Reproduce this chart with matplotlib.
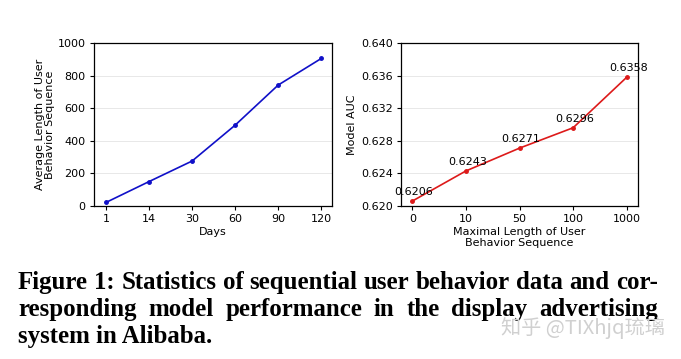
import matplotlib
matplotlib.use("Agg")
import matplotlib.pyplot as plt

# data
days = ["1", "14", "30", "60", "90", "120"]
avg_len = [22, 150, 276, 496, 742, 905]

max_len = ["0", "10", "50", "100", "1000"]
auc = [0.6206, 0.6243, 0.6271, 0.6296, 0.6358]

caption = [
    "Figure 1: Statistics of sequential user behavior data and cor-",
    "responding model performance in the display advertising",
    "system in Alibaba.",
]

W, H = 681, 359
fig = plt.figure(figsize=(W / 100, H / 100), dpi=100)
fig.patch.set_facecolor("white")

tick_fs = 8

def box(ax):
    for s in ax.spines.values():
        s.set_linewidth(0.9)
        s.set_color("black")
    ax.tick_params(labelsize=tick_fs, length=3, width=0.8, pad=3)
    ax.grid(axis="y", color="#e8e8e8", linewidth=0.7)
    ax.set_axisbelow(True)

# left panel
ax1 = fig.add_axes([94 / W, 1 - 206 / H, 238 / W, 163 / H])
x1 = range(len(days))
ax1.plot(x1, avg_len, color="#1010c8", marker="o", markersize=2.5, linewidth=1.2)
ax1.set_xticks(list(x1))
ax1.set_xticklabels(days)
ax1.set_xlim(-0.28, 5.25)
ax1.set_ylim(0, 1000)
ax1.set_yticks([0, 200, 400, 600, 800, 1000])
ax1.set_xlabel("Days", fontsize=tick_fs, labelpad=2)
ax1.set_ylabel("Average Length of User\nBehavior Sequence", fontsize=tick_fs, labelpad=2,
               linespacing=1.0)
box(ax1)

# right panel
ax2 = fig.add_axes([401 / W, 1 - 206 / H, 237 / W, 163 / H])
x2 = range(len(max_len))
ax2.plot(x2, auc, color="#dd1a1a", marker="o", markersize=2.5, linewidth=1.2)
for xi, v in zip(x2, auc):
    ax2.annotate(f"{v:.4f}", (xi, v), xytext=(1, 3), textcoords="offset points",
                 ha="center", va="bottom", fontsize=8)
ax2.set_xticks(list(x2))
ax2.set_xticklabels(max_len)
ax2.set_xlim(-0.21, 4.21)
ax2.set_ylim(0.620, 0.640)
ax2.set_yticks([0.620, 0.624, 0.628, 0.632, 0.636, 0.640])
ax2.set_yticklabels(["0.620", "0.624", "0.628", "0.632", "0.636", "0.640"])
ax2.set_xlabel("Maximal Length of User\nBehavior Sequence", fontsize=tick_fs, labelpad=2,
               linespacing=1.05)
ax2.set_ylabel("Model AUC", fontsize=tick_fs, labelpad=3)
box(ax2)

# caption: size chosen so the first line fills the width, then justified
left, right = 18 / W, 658 / W
base_y = [289, 316, 343]
renderer = fig.canvas.get_renderer()

def width_of(s, size):
    t = fig.text(0, 0, s, family="Liberation Serif", weight="bold", fontsize=size)
    w = t.get_window_extent(renderer).width / W
    t.remove()
    return w

size = 16
size = size * (right - left) / width_of(caption[0], size)
cap_font = dict(family="Liberation Serif", weight="bold", fontsize=size)

for i, line in enumerate(caption):
    y = 1 - base_y[i] / H
    words = line.split(" ")
    if i == len(caption) - 1:
        fig.text(left, y, line, ha="left", va="baseline", **cap_font)
        continue
    widths = [width_of(w, size) for w in words]
    gap = (right - left - sum(widths)) / (len(words) - 1)
    xpos = left
    for w, wd in zip(words, widths):
        fig.text(xpos, y, w, ha="left", va="baseline", **cap_font)
        xpos += wd + gap

# watermark
fig.text(665 / W, 1 - 328 / H, "知乎 @TIXhjq琉璃", ha="right", va="center",
         fontsize=14.5, color="#d0d0d0", family=["Noto Sans CJK SC", "DejaVu Sans"])

fig.savefig("out.png", dpi=100)
